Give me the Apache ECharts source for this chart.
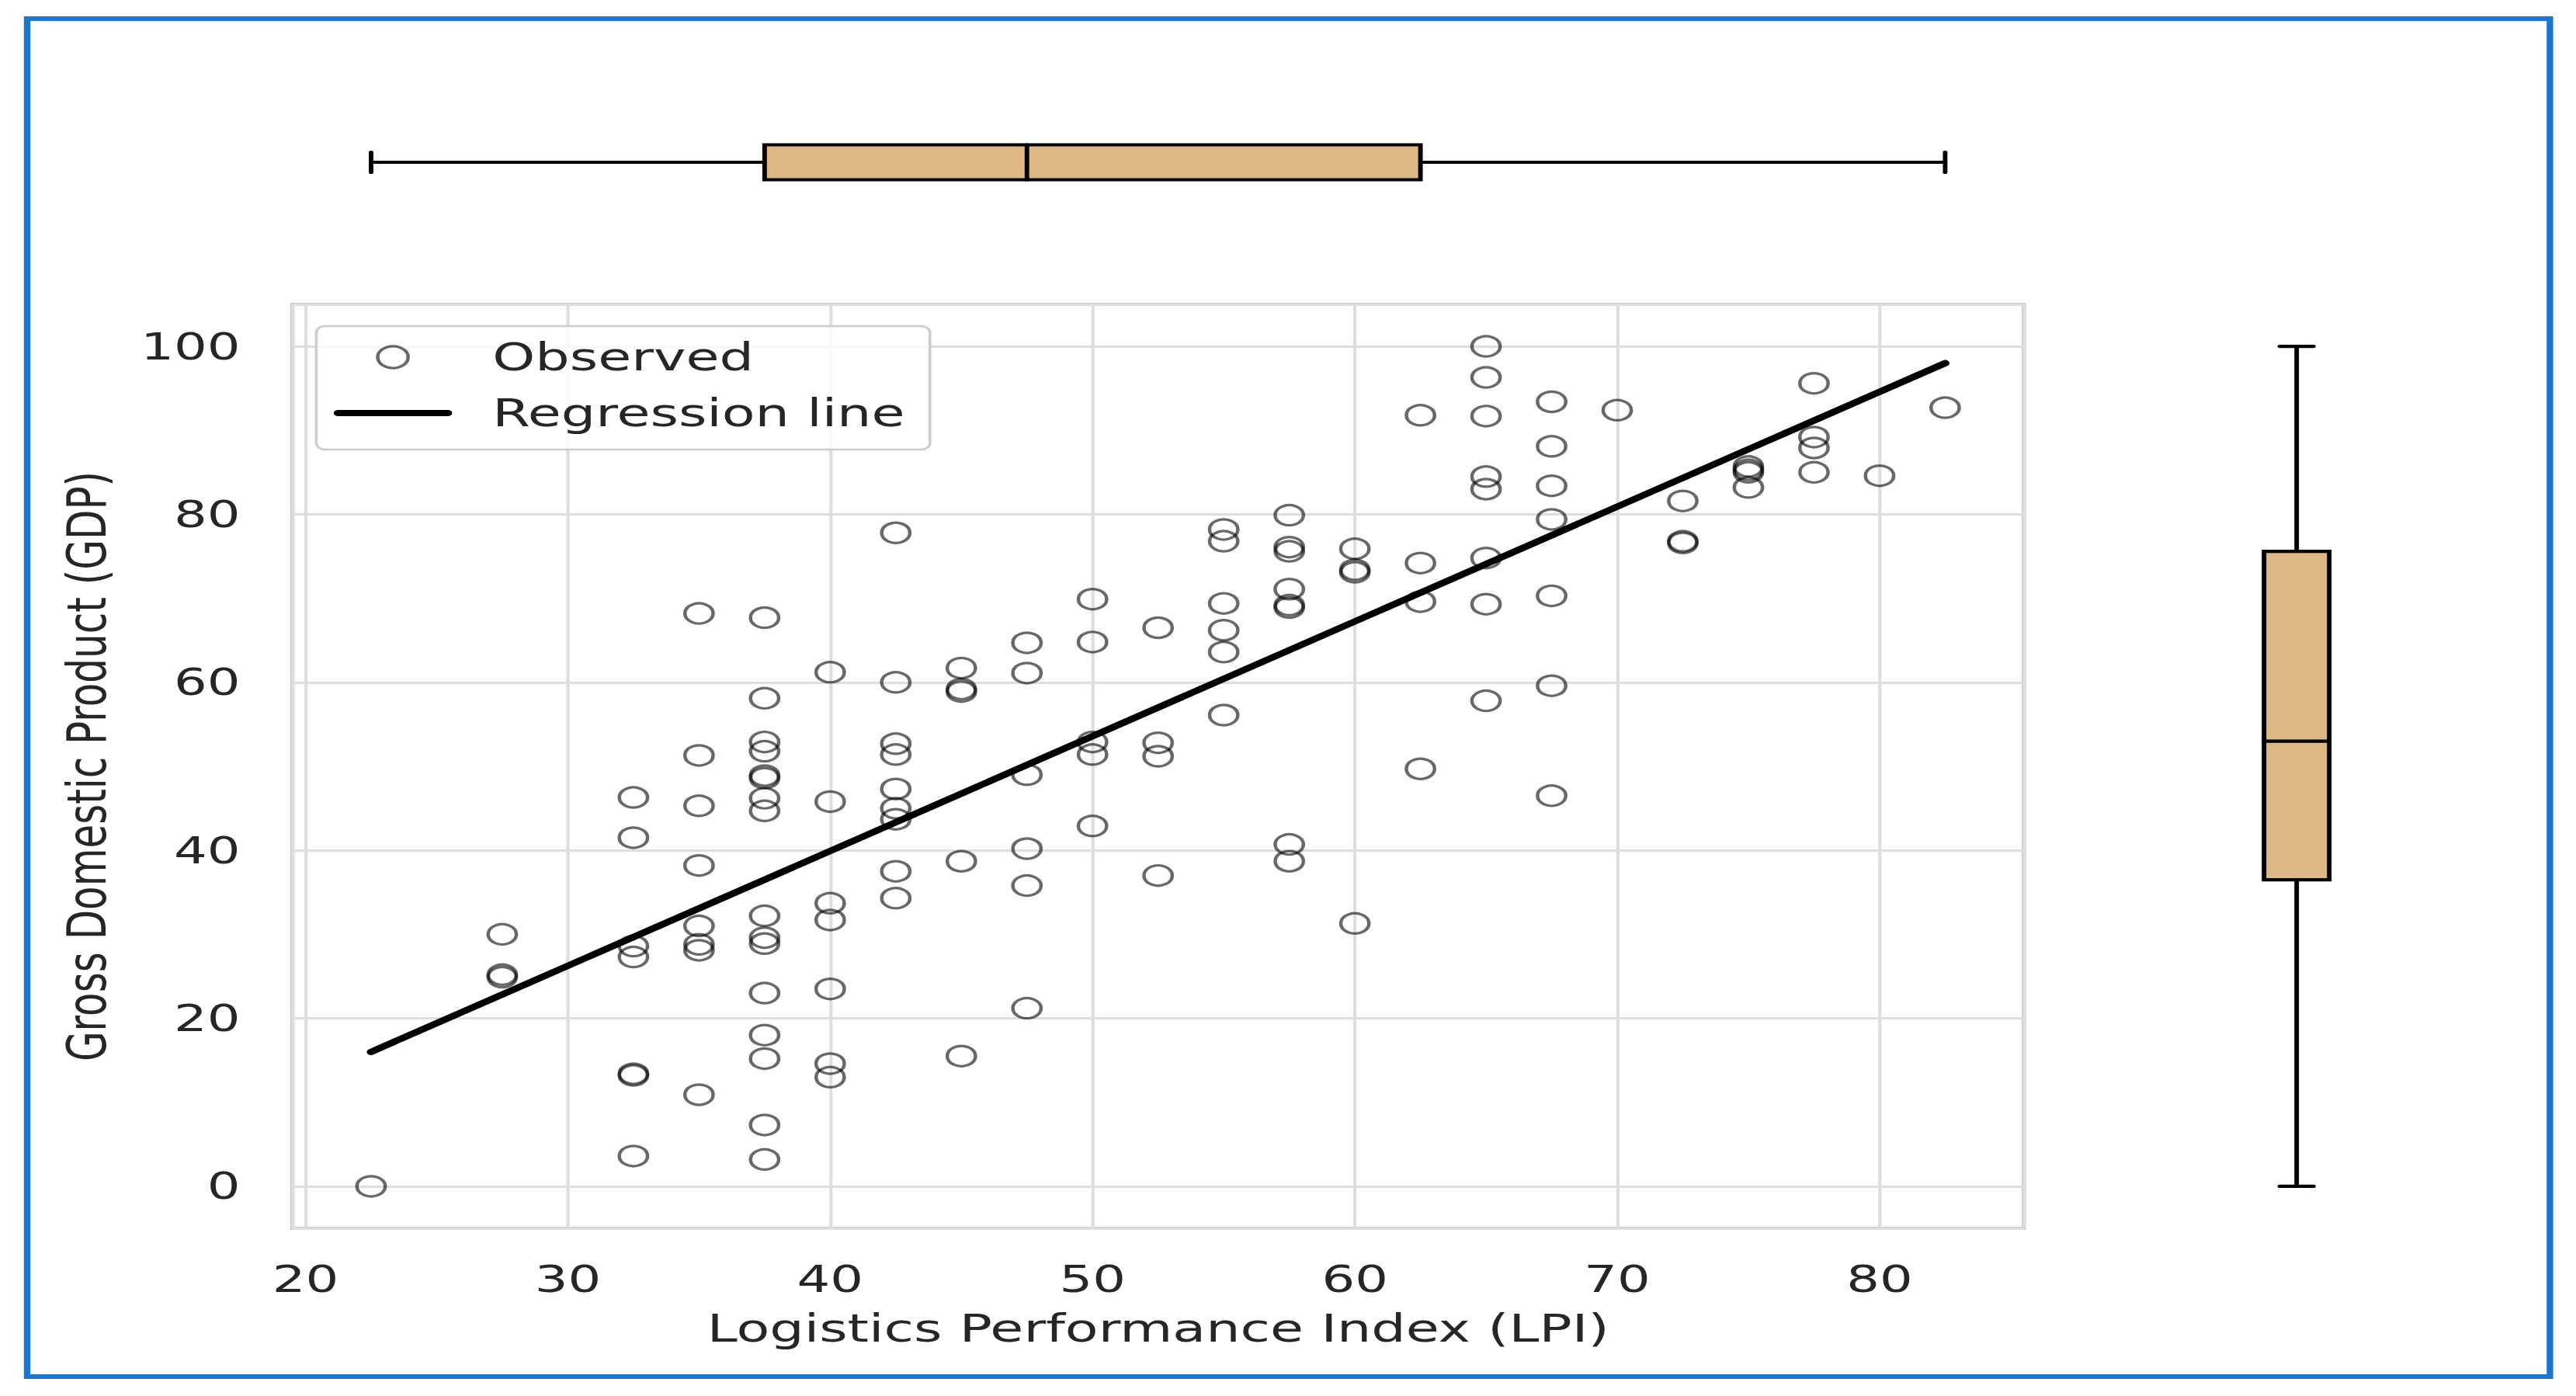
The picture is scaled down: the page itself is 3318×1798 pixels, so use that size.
<!DOCTYPE html>
<html>
<head>
<meta charset="utf-8">
<script src="https://cdn.jsdelivr.net/npm/echarts@6/dist/echarts.min.js"></script>
<style>
html, body { margin: 0; padding: 0; background: #ffffff; overflow: hidden; width: 3318px; height: 1798px; }
#chart { width: 2370px; height: 1798px; transform: scaleX(1.4); transform-origin: 0 0; }
</style>
</head>
<body>
<div id="chart"></div>
<script>
// ---------------- data ----------------
const lpiLevels = [22.5, 27.5, 32.5, 35, 37.5, 40, 42.5, 45, 47.5, 50, 52.5, 55,
                   57.5, 60, 62.5, 65, 67.5, 70, 72.5, 75, 77.5, 80, 82.5];
const gdpAtLevel = [
  [0],
  [30.0, 25.2, 24.9],
  [46.3, 41.5, 28.6, 27.3, 13.4, 13.2, 3.6],
  [68.2, 51.3, 45.3, 38.2, 31.0, 28.8, 28.1, 10.9],
  [67.7, 58.1, 52.9, 51.8, 48.9, 48.6, 46.2, 44.7, 32.2, 29.6, 28.9, 23.0, 18.0, 15.2, 7.3, 3.2],
  [61.2, 45.8, 33.7, 31.7, 23.5, 14.6, 13.0],
  [77.8, 60.0, 52.7, 51.4, 47.3, 45.0, 43.7, 37.5, 34.3],
  [61.7, 59.2, 58.9, 38.7, 15.5],
  [64.7, 61.1, 49.0, 40.2, 35.8, 21.2],
  [69.9, 64.8, 52.9, 51.4, 42.9],
  [66.5, 52.8, 51.2, 37.0],
  [78.2, 76.8, 69.4, 66.2, 63.6, 56.1],
  [79.9, 76.1, 75.6, 71.1, 69.2, 68.9, 40.7, 38.7],
  [75.9, 73.4, 73.1, 31.3],
  [91.8, 74.2, 69.6, 49.7],
  [100, 96.3, 91.7, 84.5, 83.0, 74.8, 69.3, 57.8],
  [93.4, 88.1, 83.4, 79.4, 70.3, 59.6, 46.5],
  [92.4],
  [81.6, 76.8, 76.6],
  [85.7, 85.3, 85.0, 83.2],
  [95.6, 89.2, 87.9, 85.0],
  [84.6],
  [92.7]
];
const regressionLpi = [22.5, 82.5];
const regressionGdp = [16.0, 98.0];
// five-number summaries: min, Q1, median, Q3, max
const lpiBoxStats = [22.5, 37.5, 47.5, 62.5, 82.5];
const gdpBoxStats = [0, 36.5, 53.0, 75.6, 100];
const lpiTicks = [20, 30, 40, 50, 60, 70, 80];
const gdpTicks = [0, 20, 40, 60, 80, 100];
const seriesNames = ['Observed', 'Regression line'];
const xAxisTitle = 'Logistics Performance Index (LPI)';
const yAxisTitle = 'Gross Domestic Product (GDP)';

// ---------------- build ----------------
const observed = [];
lpiLevels.forEach((x, i) => gdpAtLevel[i].forEach(g => observed.push([x, g])));
const regression = regressionLpi.map((x, i) => [x, regressionGdp[i]]);

const FONT = 'DejaVu Sans';
const TXT = '#262626';
const GRID_LINE = '#dedede';
const MARK = 'rgba(0,0,0,0.74)';

function tickFormatter(list) {
  return function (v) {
    const r = Math.round(v * 1000) / 1000;
    return list.indexOf(r) >= 0 ? String(r) : '';
  };
}

function renderBox(horizontal, boxSpan, capSpan) {
  return function (params, api) {
    const s = [0, 1, 2, 3, 4].map(i => api.value(i));
    const pt = s.map(v => horizontal ? api.coord([v, 0]) : api.coord([0, v]));
    const lw = 4.2;
    const st = { stroke: '#000000', lineWidth: lw, fill: null, lineCap: 'round' };
    const children = [];
    const seg = (a, b) => children.push({ type: 'line', shape: { x1: a[0], y1: a[1], x2: b[0], y2: b[1] }, style: st });
    if (horizontal) {
      const c = pt[0][1];
      seg([pt[0][0], c], [pt[1][0], c]);
      seg([pt[3][0], c], [pt[4][0], c]);
      seg([pt[0][0], c - capSpan / 2], [pt[0][0], c + capSpan / 2]);
      seg([pt[4][0], c - capSpan / 2], [pt[4][0], c + capSpan / 2]);
      children.push({ type: 'rect', shape: { x: pt[1][0], y: c - boxSpan / 2, width: pt[3][0] - pt[1][0], height: boxSpan },
        style: { fill: '#deb887', stroke: '#000000', lineWidth: lw } });
      seg([pt[2][0], c - boxSpan / 2], [pt[2][0], c + boxSpan / 2]);
    } else {
      const c = pt[0][0];
      seg([c, pt[0][1]], [c, pt[1][1]]);
      seg([c, pt[3][1]], [c, pt[4][1]]);
      seg([c - capSpan / 2, pt[0][1]], [c + capSpan / 2, pt[0][1]]);
      seg([c - capSpan / 2, pt[4][1]], [c + capSpan / 2, pt[4][1]]);
      children.push({ type: 'rect', shape: { x: c - boxSpan / 2, y: pt[3][1], width: boxSpan, height: pt[1][1] - pt[3][1] },
        style: { fill: '#deb887', stroke: '#000000', lineWidth: lw } });
      seg([c - boxSpan / 2, pt[2][1]], [c + boxSpan / 2, pt[2][1]]);
    }
    return { type: 'group', children: children };
  };
}

const chart = echarts.init(document.getElementById('chart'), null, { renderer: 'svg' });

const option = {
  backgroundColor: '#ffffff',
  animation: false,
  textStyle: { fontFamily: FONT, color: TXT },
  graphic: [{
    type: 'rect', silent: true, z: 100,
    shape: { x: 25, y: 24, width: 2321, height: 1749 },
    style: { fill: null, stroke: '#1a76cf', lineWidth: 6 }
  }],
  grid: [
    { left: 269, right: 508, top: 392, bottom: 216, show: true, borderColor: '#cccccc', borderWidth: 4, backgroundColor: 'transparent' },
    { left: 269, right: 508, top: 159, height: 100 },
    { left: 2063, width: 100, top: 392, bottom: 216 }
  ],
  xAxis: [
    {
      gridIndex: 0, type: 'value', min: 19.5, max: 85.5,
      name: xAxisTitle, nameLocation: 'middle', nameGap: 104,
      nameTextStyle: { fontSize: 50, color: TXT, fontFamily: FONT },
      axisLine: { show: false }, axisTick: { show: false },
      axisLabel: { fontSize: 48, color: TXT, margin: 42, fontFamily: FONT, formatter: tickFormatter(lpiTicks) },
      splitLine: { show: true, lineStyle: { color: GRID_LINE, width: 3 } }
    },
    { gridIndex: 1, type: 'value', min: 19.5, max: 85.5, show: false, splitLine: { show: false } },
    { gridIndex: 2, type: 'category', data: ['GDP'], show: false }
  ],
  yAxis: [
    {
      gridIndex: 0, type: 'value', min: -5, max: 105,
      name: yAxisTitle, nameLocation: 'middle', nameGap: 164, nameRotate: 90,
      nameTextStyle: { fontSize: 50, color: TXT, fontFamily: FONT },
      axisLine: { show: false }, axisTick: { show: false },
      axisLabel: { fontSize: 48, color: TXT, margin: 48, fontFamily: FONT, formatter: tickFormatter(gdpTicks) },
      splitLine: { show: true, lineStyle: { color: GRID_LINE, width: 3 } }
    },
    { gridIndex: 1, type: 'category', data: ['LPI'], show: false },
    { gridIndex: 2, type: 'value', min: -5, max: 105, show: false, splitLine: { show: false } }
  ],
  legend: {
    orient: 'vertical', left: 291, top: 420,
    padding: [10, 23, 17, 16], itemGap: 12, itemWidth: 109, itemHeight: 28,
    backgroundColor: 'rgba(255,255,255,0.8)', borderColor: '#cccccc', borderWidth: 2.5, borderRadius: 8,
    textStyle: { fontSize: 50, lineHeight: 60, color: TXT, fontFamily: FONT, padding: [0, 0, 0, 32] },
    data: [
      { name: seriesNames[0], icon: 'circle', itemStyle: { color: 'rgba(0,0,0,0)', borderColor: MARK, borderWidth: 3.2 } },
      { name: seriesNames[1], icon: 'path://M4,0 L105,0 A4,4 0 0 1 105,8 L4,8 A4,4 0 0 1 4,0 Z',
        itemStyle: { color: '#000000', borderWidth: 0 } }
    ]
  },
  series: [
    {
      name: seriesNames[0], type: 'scatter', xAxisIndex: 0, yAxisIndex: 0, z: 2,
      symbol: 'circle', symbolSize: 26,
      itemStyle: { color: 'rgba(0,0,0,0)', borderColor: MARK, borderWidth: 3.2 },
      data: observed
    },
    {
      name: seriesNames[1], type: 'line', xAxisIndex: 0, yAxisIndex: 0, z: 3,
      symbol: 'none', itemStyle: { color: '#000000' },
      lineStyle: { color: '#000000', width: 8, cap: 'round' },
      data: regression
    },
    {
      type: 'custom', xAxisIndex: 1, yAxisIndex: 1, z: 2,
      renderItem: renderBox(true, 45, 26),
      encode: { x: [0, 1, 2, 3, 4], y: 5 },
      data: [lpiBoxStats.concat([0])]
    },
    {
      type: 'custom', xAxisIndex: 2, yAxisIndex: 2, z: 2,
      renderItem: renderBox(false, 60, 31),
      encode: { x: 5, y: [0, 1, 2, 3, 4] },
      data: [gdpBoxStats.concat([0])]
    }
  ]
};
chart.setOption(option);
</script>
</body>
</html>
